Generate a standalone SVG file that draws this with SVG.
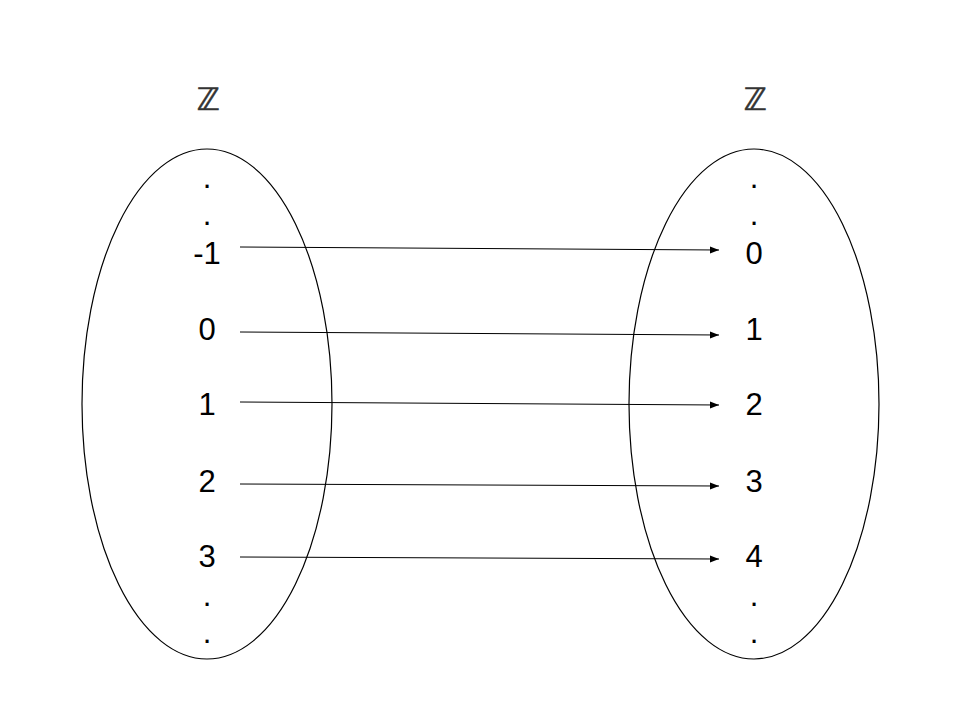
<svg xmlns="http://www.w3.org/2000/svg" width="960" height="720" viewBox="0 0 960 720">
<style>
.set{fill:none;stroke:#000;stroke-width:1.2}
.lbl{font-family:"Liberation Sans",Arial,sans-serif;font-size:31px;text-anchor:middle;fill:#000}
.zz{font-family:"DejaVu Sans",sans-serif;font-size:31px;text-anchor:middle;fill:#333;stroke:#333;stroke-width:0.6}
.conn{stroke:#000;stroke-width:1;fill:none;marker-end:url(#ah)}
</style>
<defs>
<marker id="ah" markerWidth="10" markerHeight="8" refX="9" refY="4" orient="auto" markerUnits="userSpaceOnUse">
<path d="M0,0.5 L9,4 L0,7.5 Z" fill="#000"/>
</marker>
</defs>
<rect width="960" height="720" fill="#fff"/>
<g id="domain">
<ellipse class="set" cx="207" cy="404" rx="125" ry="255"/>
<text class="zz" x="208" y="110">ℤ</text>
<text class="lbl" x="207" y="188">.</text>
<text class="lbl" x="207" y="225">.</text>
<text class="lbl" x="207" y="264">-1</text>
<text class="lbl" x="207" y="340">0</text>
<text class="lbl" x="207" y="415">1</text>
<text class="lbl" x="207" y="492">2</text>
<text class="lbl" x="207" y="567">3</text>
<text class="lbl" x="207" y="606">.</text>
<text class="lbl" x="207" y="643">.</text>
</g>
<g id="codomain">
<ellipse class="set" cx="754" cy="404" rx="125" ry="255"/>
<text class="zz" x="755" y="110">ℤ</text>
<text class="lbl" x="754" y="188">.</text>
<text class="lbl" x="754" y="225">.</text>
<text class="lbl" x="754" y="264">0</text>
<text class="lbl" x="754" y="340">1</text>
<text class="lbl" x="754" y="415">2</text>
<text class="lbl" x="754" y="492">3</text>
<text class="lbl" x="754" y="567">4</text>
<text class="lbl" x="754" y="606">.</text>
<text class="lbl" x="754" y="643">.</text>
</g>
<g id="connectors">
<line class="conn" x1="240" y1="247" x2="719" y2="250"/>
<line class="conn" x1="240" y1="332" x2="719" y2="335"/>
<line class="conn" x1="240" y1="402" x2="719" y2="405"/>
<line class="conn" x1="240" y1="484" x2="719" y2="486"/>
<line class="conn" x1="240" y1="557" x2="719" y2="559"/>
</g>
</svg>
